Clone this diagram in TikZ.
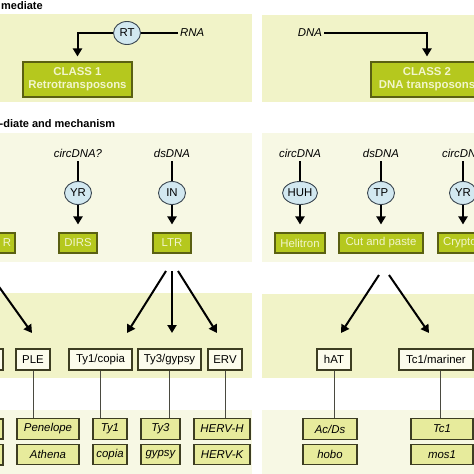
\documentclass[tikz,border=0pt]{standalone}
\usepackage{fontspec}
\setmainfont{Liberation Sans}
\usetikzlibrary{arrows.meta,shapes.geometric}
\definecolor{panelA}{HTML}{F1F3C8}
\definecolor{panelB}{HTML}{F7F8E4}
\definecolor{gfill}{HTML}{B5C81E}
\definecolor{gborder}{HTML}{5A6012}
\definecolor{gtext}{HTML}{F2F5CC}
\definecolor{cfill}{HTML}{D2E8F0}
\definecolor{cborder}{HTML}{3A4650}
\definecolor{ffill}{HTML}{FCFCEC}
\definecolor{bborder}{HTML}{3D3D22}
\definecolor{efill}{HTML}{E7EB9C}
\definecolor{thinc}{HTML}{4A4A40}
\newcommand\myfs{\fontsize{11.4}{13}\selectfont}
\begin{document}
\begin{tikzpicture}[x=1pt,y=-1pt,
  every node/.style={font=\myfs},
  title/.style={anchor=base west,inner sep=0,font=\bfseries\fontsize{11}{13}\selectfont},
  lab/.style={inner sep=2pt,font=\myfs\itshape},
  gbox/.style={draw=gborder,fill=gfill,text=gtext,line width=1.1pt,inner sep=0,minimum height=20pt},
  classbox/.style={gbox,align=center,font=\myfs\bfseries,minimum height=35pt},
  enz/.style={ellipse,draw=cborder,fill=cfill,line width=0.9pt,inner sep=0,minimum width=27pt,minimum height=23pt},
  fam/.style={draw=bborder,fill=ffill,line width=1.1pt,inner sep=0,minimum height=21pt},
  ex/.style={draw=bborder,fill=efill,line width=1.1pt,inner sep=0,minimum height=20.5pt,font=\myfs\itshape},
  thick line/.style={line width=2pt},
  arr/.style={line width=2pt,-{Triangle[length=8pt,width=9pt]}},
  thinl/.style={draw=thinc,line width=0.9pt}]
\clip (0,0) rectangle (474,474);
\path[use as bounding box] (0,0) rectangle (474,474);
% panels
\fill[panelA] (-5,14) rectangle (252,102);
\fill[panelA] (262,15) rectangle (480,102);
\fill[panelB] (-5,133) rectangle (252,262);
\fill[panelB] (262,133) rectangle (480,262);
\fill[panelA] (-5,293) rectangle (252,378);
\fill[panelA] (262,294) rectangle (480,378);
\fill[panelB] (-5,410) rectangle (252,480);
\fill[panelB] (262,410) rectangle (480,480);
% titles
\node[title] (t1) at (1,9) {mediate};
\node[title] (t2) at (-0.5,127) {-diate and mechanism};
% row 1
\node[enz] (rt) at (127,33) {RT};
\node[lab,anchor=west] (rna) at (178,33) {RNA};
\node[classbox,minimum width=109pt] (class1) at (77.5,79.5) {CLASS 1\\Retrotransposons};
\draw[thick line] (rna.west) -- (rt.east);
\draw[arr,shorten >=5pt] (rt.west) -| (class1.north);
\node[lab] (dna) at (310,33) {DNA};
\node[classbox,minimum width=112pt] (class2) at (427,79.5) {CLASS 2\\DNA transposons};
\draw[arr,shorten >=5pt] (dna.east) -| (class2.north);
% row 2
\draw[gborder,fill=gfill,line width=1.1pt] (-30,233) rectangle (15,253);
\node[text=gtext] (rcut) at (7,243) {R};
\foreach \nm/\x/\lb/\en/\ew/\bx/\bw in {
  dirs/78/circDNA?/YR/27/DIRS/38,
  ltr/172/dsDNA/IN/27/LTR/38,
  heli/300/circDNA/HUH/30/Helitron/50,
  cut/381/dsDNA/TP/27/Cut and paste/84,
  cryp/463/circDNA/YR/27/Crypton/50}{
  \node[lab] (\nm-l) at (\x,153) {\lb};
  \node[enz,minimum width=\ew pt] (\nm-e) at (\x,193) {\en};
  \node[gbox,minimum width=\bw pt] (\nm) at (\x,243) {\bx};
  \draw[thick line,shorten <=2pt] (\nm-l.south) -- (\nm-e.north);
  \draw[arr,shorten >=8pt] (\nm-e.south) -- (\nm.north);
}
% row 3
\draw[bborder,fill=ffill,line width=1.1pt] (-30,349) rectangle (3,370);
\node[fam,minimum width=34pt] (ple) at (33,359.5) {PLE};
\node[fam,minimum width=63pt] (ty1c) at (100.5,359.5) {Ty1/copia};
\node[fam,minimum width=63pt] (ty3g) at (169.5,359.5) {Ty3/gypsy};
\node[fam,minimum width=34pt] (erv) at (225,359.5) {ERV};
\node[fam,minimum width=34pt] (hat) at (334,359.5) {hAT};
\node[fam,minimum width=74pt] (tc1m) at (436,359.5) {Tc1/mariner};
\coordinate (s0) at (-8,277);
\coordinate (s1) at (166,271);
\coordinate (s2) at (172,271);
\coordinate (s3) at (178,271);
\coordinate (s4) at (379,275);
\coordinate (s5) at (389,275);
\coordinate (e0) at (32,333);
\coordinate (e1) at (127,333);
\coordinate (e2) at (172,333);
\coordinate (e3) at (217,333);
\coordinate (e4) at (341,333);
\coordinate (e5) at (429,333);
\foreach \i in {0,...,5} {\draw[arr] (s\i) -- (e\i);}
% row 4
\draw[bborder,fill=efill,line width=1.1pt] (-30,419) rectangle (3,439);
\draw[bborder,fill=efill,line width=1.1pt] (-30,444.5) rectangle (3,465);
\foreach \nm/\x/\w/\a/\b in {
  pen/48/62/Penelope/Athena,
  tyone/110/34/Ty1/copia,
  tythree/160.5/39/Ty3/gypsy,
  herv/222/56/HERV-H/HERV-K,
  acds/330/54/Ac\slash Ds/hobo,
  tcone/442/62/Tc1/mos1}{
  \node[ex,minimum width=\w pt] (\nm-a) at (\x,429) {\a};
  \node[ex,minimum width=\w pt] (\nm-b) at (\x,454.5) {\b};
}
\draw[thinl] (ple.south) -- (ple.south |- pen-a.north);
\draw[thinl] (ty1c.south) -- (ty1c.south |- tyone-a.north);
\draw[thinl] (ty3g.south) -- (ty3g.south |- tythree-a.north);
\draw[thinl] (erv.south) -- (erv.south |- herv-a.north);
\draw[thinl] (hat.south) -- (hat.south |- acds-a.north);
\draw[thinl] ([xshift=4pt]tc1m.south) -- ([xshift=4pt]tc1m.south |- tcone-a.north);
\end{tikzpicture}
\end{document}
